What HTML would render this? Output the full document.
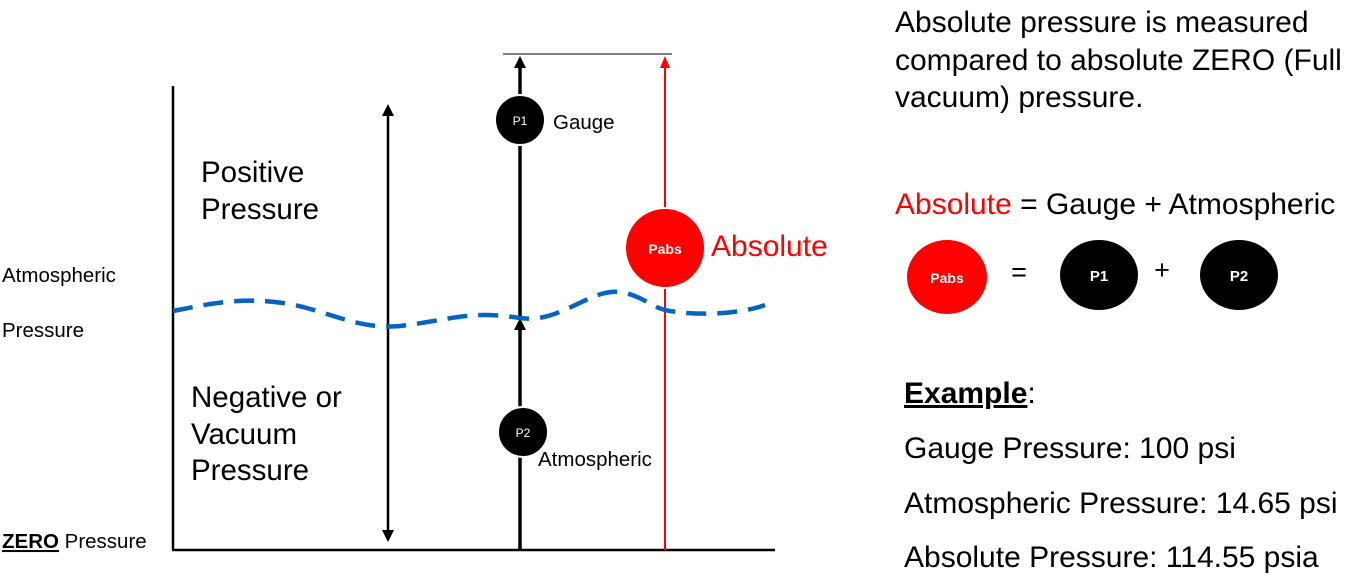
<!DOCTYPE html>
<html><head><meta charset="utf-8"><style>html,body{margin:0;padding:0;background:#fff}svg{display:block}text{font-family:"Liberation Sans",Arial,sans-serif}</style></head>
<body>
<svg width="1372" height="588" viewBox="0 0 1372 588" xmlns="http://www.w3.org/2000/svg">
<defs>
<marker id="ab" markerWidth="12" markerHeight="12" refX="6" refY="6" orient="auto-start-reverse" markerUnits="userSpaceOnUse"><path d="M0,0 L12,6 L0,12 z" fill="#000"/></marker>
<marker id="ar" markerWidth="12" markerHeight="12" refX="6" refY="6" orient="auto" markerUnits="userSpaceOnUse"><path d="M0,1 L12,6 L0,11 z" fill="#f00"/></marker>
</defs>
<line x1="173" y1="86" x2="173" y2="550" stroke="#000" stroke-width="2.5"/>
<line x1="172" y1="550" x2="775" y2="550" stroke="#000" stroke-width="2.5"/>
<line x1="503" y1="54" x2="672" y2="54" stroke="#000" stroke-width="1"/>
<line x1="388" y1="110" x2="388" y2="536" stroke="#000" stroke-width="2.5" marker-start="url(#ab)" marker-end="url(#ab)"/>
<line x1="520" y1="550" x2="520" y2="324" stroke="#000" stroke-width="3.5" marker-end="url(#ab)"/>
<line x1="520" y1="318" x2="520" y2="62" stroke="#000" stroke-width="3.5" marker-end="url(#ab)"/>
<line x1="665" y1="550" x2="665" y2="62" stroke="#f00" stroke-width="2" marker-end="url(#ar)"/>
<path d="M173,311 C210,304 240,296 290,304 C330,312 360,330 400,326 C450,320 470,310 520,318 C560,324 590,288 620,292 C645,296 650,308 670,311 C700,316 740,314 765,305" fill="none" stroke="#0563c1" stroke-width="4.5" stroke-dasharray="20,11"/>
<circle cx="520" cy="120" r="25" fill="#000" stroke="#fff" stroke-width="2"/>
<text x="520" y="125" font-size="12" fill="#fff" text-anchor="middle">P1</text>
<circle cx="523" cy="432" r="25" fill="#000" stroke="#fff" stroke-width="2"/>
<text x="523" y="437" font-size="12" fill="#fff" text-anchor="middle">P2</text>
<circle cx="665" cy="248" r="40" fill="#f00" stroke="#fff" stroke-width="2"/>
<text x="665" y="254" font-size="14" font-weight="bold" fill="#fff" text-anchor="middle">Pabs</text>
<text x="553" y="129" font-size="20.5">Gauge</text>
<text x="538" y="466" font-size="20.5">Atmospheric</text>
<text x="711" y="256" font-size="30" fill="#f00">Absolute</text>
<text x="201" y="182" font-size="29.5">Positive</text>
<text x="201" y="219" font-size="29.5">Pressure</text>
<text x="191" y="407" font-size="29.5">Negative or</text>
<text x="191" y="444" font-size="29.5">Vacuum</text>
<text x="191" y="480" font-size="29.5">Pressure</text>
<text x="2" y="282" font-size="20.5">Atmospheric</text>
<text x="2" y="337" font-size="20.5">Pressure</text>
<text x="2" y="548" font-size="20.5"><tspan font-weight="bold" text-decoration="underline">ZERO</tspan> Pressure</text>
<text x="895" y="32" font-size="30">Absolute pressure is measured</text>
<text x="895" y="70" font-size="30">compared to absolute ZERO (Full</text>
<text x="895" y="107" font-size="30">vacuum) pressure.</text>
<text x="895" y="214" font-size="30"><tspan fill="#f00">Absolute</tspan> = Gauge + Atmospheric</text>
<ellipse cx="947" cy="277" rx="40" ry="37" fill="#f00"/>
<text x="947" y="283" font-size="14" font-weight="bold" fill="#fff" text-anchor="middle">Pabs</text>
<text x="1019" y="281" font-size="27" text-anchor="middle">=</text>
<ellipse cx="1099" cy="275" rx="39" ry="35" fill="#000"/>
<text x="1099" y="281" font-size="15" font-weight="bold" fill="#fff" text-anchor="middle">P1</text>
<text x="1162" y="279" font-size="27" text-anchor="middle">+</text>
<ellipse cx="1239" cy="275" rx="39" ry="35" fill="#000"/>
<text x="1239" y="281" font-size="15" font-weight="bold" fill="#fff" text-anchor="middle">P2</text>
<text x="904" y="403" font-size="30"><tspan font-weight="bold" text-decoration="underline">Example</tspan>:</text>
<text x="904" y="458" font-size="30">Gauge Pressure: 100 psi</text>
<text x="904" y="513" font-size="30">Atmospheric Pressure: 14.65 psi</text>
<text x="904" y="567" font-size="30">Absolute Pressure: 114.55 psia</text>
</svg>
</body></html>
